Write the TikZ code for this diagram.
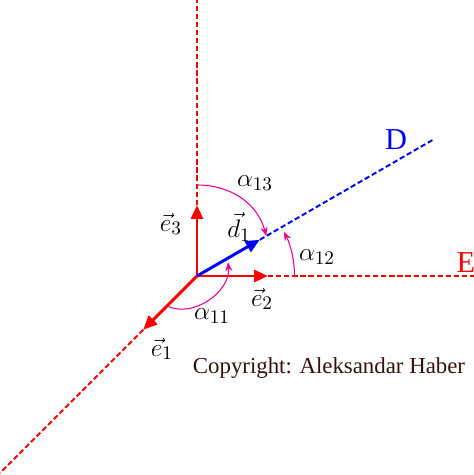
\documentclass[tikz,border=0pt]{standalone}
\usepackage{fontspec}
\setmainfont{Liberation Serif}
\usepackage{amsmath}
\usetikzlibrary{arrows.meta}
\definecolor{copyc}{RGB}{55,15,15}

\begin{document}
\begin{tikzpicture}[
		axis/.style={red, line width=1.7pt, -{Triangle[length=2.8mm,width=2.4mm]}},
		dirvec/.style={blue, line width=1.7pt, -{Triangle[length=2.8mm,width=2.4mm]}},
		extline/.style={line width=1.1pt, dash pattern=on 3pt off 1.6pt},
		anglearc/.style={magenta, line width=0.6pt, -{Stealth[length=1.8mm,width=1.4mm]}},
		lbl/.style={font=\fontsize{15.5}{18}\selectfont, inner sep=1pt}
	]
	\useasboundingbox (-3.94,-3.98) rectangle (5.54,5.52);

	% axes
	\coordinate (O) at (0,0);
	\coordinate (e1tip) at (225:1.52);
	\coordinate (e2tip) at (1.42,0);
	\coordinate (e3tip) at (0,1.42);
	\coordinate (d1tip) at (30:1.45);

	% dashed extensions
	\coordinate (e1end) at (-3.94,-3.94);
	\coordinate (e2end) at (5.54,0);
	\coordinate (e3end) at (0,5.52);
	\coordinate (Dend) at (30:5.45);
	\draw[extline, red] (e1tip) -- (e1end);
	\draw[extline, red] (e2tip) -- (e2end);
	\draw[extline, red] (e3tip) -- (e3end);
	\draw[extline, blue] (d1tip) -- (Dend);

	\draw[axis] (O) -- (e1tip);
	\draw[axis] (O) -- (e2tip);
	\draw[axis] (O) -- (e3tip);
	\draw[dirvec] (O) -- (d1tip);

	% angles
	\coordinate (a13s) at (0,1.82);
	\coordinate (a13e) at (30:1.6);
	\draw[anglearc] (a13s) to[out=0,in=105] (a13e);
	\coordinate (a12s) at (1.95,0);
	\draw[anglearc] (a12s) arc[start angle=0,end angle=27,radius=1.95];
	\coordinate (a11s) at (225:0.85);
	\coordinate (a11e) at (24:0.68);
	\draw[anglearc] (a11s) to[out=-25,in=-85] (a11e);

	% labels
	\node[lbl] (la13) at (1.16,1.86) {$\alpha_{13}$};
	\node[lbl] (la12) at (2.4,0.38) {$\alpha_{12}$};
	\node[lbl] (la11) at (0.3,-0.8) {$\alpha_{11}$};
	\node[lbl] (le3) at (-0.52,1.04) {$\vec{e}_3$};
	\node[lbl] (le2) at (1.3,-0.46) {$\vec{e}_2$};
	\node[lbl] (le1) at (-0.7,-1.46) {$\vec{e}_1$};
	\node[lbl] (ld1) at (0.84,0.98) {$\vec{d}_1$};
	\node[font=\LARGE, blue] (lD) at (3.98,2.72) {D};
	\node[font=\LARGE, red] (lE) at (5.38,0.26) {E};
	\node[font=\fontsize{13}{15}\selectfont, text=copyc] (copy) at (2.64,-1.84) {Copyright: Aleksandar Haber};
\end{tikzpicture}
\end{document}
